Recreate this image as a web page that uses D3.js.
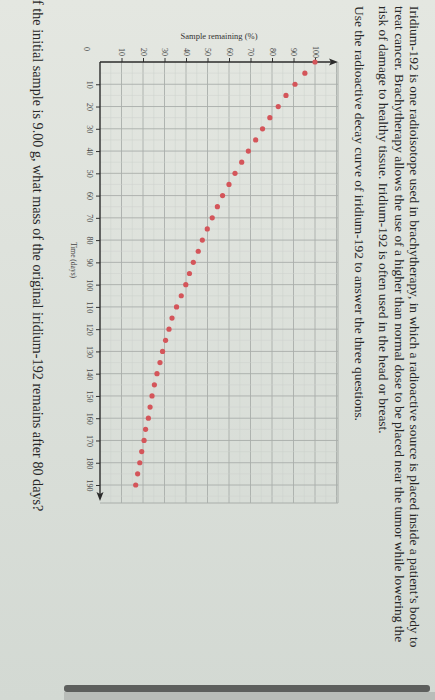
<!DOCTYPE html>
<html><head><meta charset="utf-8">
<script src="https://cdn.jsdelivr.net/npm/d3@7"></script>
<style>body{margin:0;background:#dfe3dd}svg{display:block}</style>
</head><body><div id="chart"></div>
<script>
// photo of a textbook page, turned 90 degrees: time runs down, percent runs right
var days = [0,5,10,15,20,25,30,35,40,45,50,55,60,65,70,75,80,85,90,95,100,
            105,110,115,120,125,130,135,140,145,150,155,160,165,170,175,180,185,190];
var remaining = [100,95.3,90.7,86.5,82.9,79,75.6,72.4,69,65.9,62.8,60,57,54.6,52.2,49.9,47.6,45.7,43.4,41.6,39.9,
                 37.8,35.6,33.5,32.1,30.5,29.1,27.9,26.5,25.3,24.2,23.3,22.5,21.2,20.5,19.4,18.5,17.5,16.6];
var pctTicks = [10,20,30,40,50,60,70,80,90,100];
var dayTicks = [10,20,30,40,50,60,70,80,90,100,110,120,130,140,150,160,170,180,190];
var introLines = [
  "Iridium-192 is one radioisotope used in brachytherapy, in which a radioactive source is placed inside a patient\u2019s body to",
  "treat cancer. Brachytherapy allows the use of a higher than normal dose to be placed near the tumor while lowering the",
  "risk of damage to healthy tissue. Iridium-192 is often used in the head or breast.",
  "Use the radioactive decay curve of iridium-192 to answer the three questions."
];
var question = "f the initial sample is 9.00 g, what mass of the original iridium-192 remains after 80 days?";

var W = 435, H = 700, serif = "'Liberation Serif','DejaVu Serif',serif";
var svg = d3.select("#chart").append("svg").attr("width", W).attr("height", H);
var grad = svg.append("defs").append("linearGradient").attr("id", "pg")
  .attr("x1", 0).attr("y1", 0).attr("x2", 0).attr("y2", 1);
grad.append("stop").attr("offset", 0).attr("stop-color", "#e4e7e1");
grad.append("stop").attr("offset", 1).attr("stop-color", "#d3d9d3");
svg.append("rect").attr("width", W).attr("height", H).attr("fill", "url(#pg)");
svg.append("rect").attr("x", 64).attr("y", 685).attr("width", 366).attr("height", 7)
  .attr("rx", 3).attr("fill", "#5d5f5d");
svg.append("rect").attr("x", 64).attr("y", 692).attr("width", 371).attr("height", 8)
  .attr("fill", "#b9bdb9");

function vtext(x, y, str, size, anchor) {
  return svg.append("text").attr("transform", "translate(" + x + "," + y + ") rotate(90)")
    .attr("font-family", serif).attr("font-size", size).attr("fill", "#262626")
    .attr("text-anchor", anchor || "start").text(str);
}
var lineX = [410, 395, 379, 355];
introLines.forEach(function (t, i) { vtext(lineX[i], 6, t, 13.4); });
vtext(33, 0, question, 14.2);

var x = d3.scaleLinear().domain([0, 100]).range([100, 315]);
var y = d3.scaleLinear().domain([0, 190]).range([62, 485]);

var grid = svg.append("g");
d3.range(5, 115, 5).forEach(function (p) {
  grid.append("line").attr("x1", x(p)).attr("x2", x(p)).attr("y1", y(0)).attr("y2", 503)
    .attr("stroke", p % 10 ? "#cdd1cc" : "#a9aeaa").attr("stroke-width", p % 10 ? 0.5 : 0.9);
});
d3.range(5, 200, 5).forEach(function (t) {
  grid.append("line").attr("x1", x(0)).attr("x2", 338).attr("y1", y(t)).attr("y2", y(t))
    .attr("stroke", t % 10 ? "#cdd1cc" : "#a9aeaa").attr("stroke-width", t % 10 ? 0.5 : 0.9);
});
grid.append("line").attr("x1", 338).attr("x2", 338).attr("y1", y(0)).attr("y2", 503)
  .attr("stroke", "#a9aeaa");
grid.append("line").attr("x1", x(0)).attr("x2", 338).attr("y1", 503).attr("y2", 503)
  .attr("stroke", "#a9aeaa");

var ax = svg.append("g").attr("transform", "translate(0," + y(0) + ")")
  .call(d3.axisTop(x).tickValues(pctTicks).tickSize(4).tickSizeOuter(0));
var ay = svg.append("g").attr("transform", "translate(" + x(0) + ",0)")
  .call(d3.axisLeft(y).tickValues(dayTicks).tickSize(4).tickSizeOuter(0));
[ax, ay].forEach(function (a) {
  a.select(".domain").remove();
  a.selectAll("line").attr("stroke", "#333");
  a.selectAll("text").attr("font-family", serif).attr("font-size", 8).attr("fill", "#444")
    .attr("dy", null).attr("text-anchor", "middle").attr("transform", "rotate(90)");
});
ax.selectAll("text").attr("x", -10).attr("y", 3);
ay.selectAll("text").attr("x", 0).attr("y", 13);

svg.append("line").attr("x1", x(0)).attr("x2", 332).attr("y1", y(0)).attr("y2", y(0))
  .attr("stroke", "#2b2b2b").attr("stroke-width", 1.4);
svg.append("path").attr("d", "M338," + y(0) + "l-9,-3.5l2,3.5l-2,3.5z").attr("fill", "#2b2b2b");
svg.append("line").attr("x1", x(0)).attr("x2", x(0)).attr("y1", y(0)).attr("y2", 494)
  .attr("stroke", "#2b2b2b").attr("stroke-width", 1.4);
svg.append("path").attr("d", "M" + x(0) + ",501l-3.5,-9l3.5,2l3.5,-2z").attr("fill", "#2b2b2b");

vtext(84, 49, "0", 8, "middle").attr("fill", "#444");
svg.append("text").attr("x", 219).attr("y", 39).attr("text-anchor", "middle")
  .attr("font-family", serif).attr("font-size", 8.5).attr("fill", "#333").text("Sample remaining (%)");
vtext(71, 260, "Time (days)", 7.5, "middle").attr("fill", "#444");

svg.append("g").selectAll("circle").data(days).join("circle")
  .attr("cx", function (d, i) { return x(remaining[i]); })
  .attr("cy", function (d) { return y(d); })
  .attr("r", 2.6).attr("fill", "#d4555a");
</script></body></html>
